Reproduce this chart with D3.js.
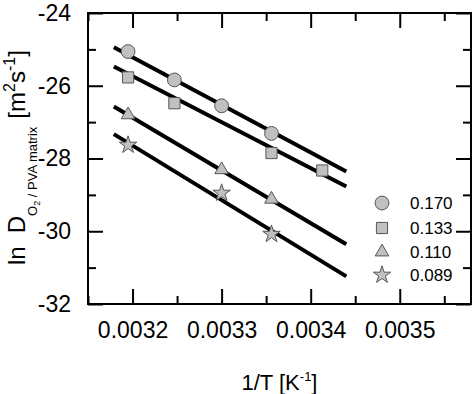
<!DOCTYPE html>
<html>
<head>
<meta charset="utf-8">
<script src="https://cdn.jsdelivr.net/npm/d3@7"></script>
<style>
  body { margin: 0; background: #fff; }
  text { font-family: Arial, "Liberation Sans", sans-serif; fill: #000; }
</style>
</head>
<body>
<div id="chart"></div>
<script>
// data
var seriesNames = ["0.170", "0.133", "0.110", "0.089"];
var x170 = [0.003195, 0.003247, 0.0033, 0.003356];
var y170 = [-25.06, -25.84, -26.55, -27.31];
var x133 = [0.003195, 0.003247, 0.003356, 0.003413];
var y133 = [-25.77, -26.48, -27.85, -28.33];
var x110 = [0.003195, 0.0033, 0.003356];
var y110 = [-26.8, -28.31, -29.12];
var x089 = [0.003195, 0.0033, 0.003356];
var y089 = [-27.63, -28.95, -30.08];
// fitted lines: start / end
var fitX = [0.003179, 0.00344];
var fitY = [[-24.94, -28.36], [-25.47, -28.77], [-26.57, -30.36], [-27.33, -31.24]];
var xTicks = [0.0032, 0.0033, 0.0034, 0.0035];
var xMinor = [0.00315, 0.00325, 0.00335, 0.00345, 0.00355];
var yTicks = [-32, -30, -28, -26, -24];
var yMinor = [-31, -29, -27, -25];

var svgWidth = 474, svgHeight = 394;
var margin = {top: 13, right: 3, bottom: 90, left: 88};
var width = svgWidth - margin.left - margin.right;
var height = svgHeight - margin.top - margin.bottom;

var svg = d3.select("#chart").append("svg")
  .attr("width", svgWidth)
  .attr("height", svgHeight);

var g = svg.append("g")
  .attr("transform", `translate(${margin.left}, ${margin.top})`);

var xScale = d3.scaleLinear().domain([0.00315, 0.00358]).range([0, width]);
var yScale = d3.scaleLinear().domain([-32, -24]).range([height, 0]);

function styleAxis(sel) {
  sel.select(".domain").remove();
  sel.selectAll("line").attr("stroke", "#000").attr("stroke-width", 2);
  sel.selectAll("text").style("font-size", "23px");
}

// bottom
g.append("g").attr("transform", `translate(0, ${height})`)
  .call(d3.axisBottom(xScale).tickValues(xTicks).tickSize(-15).tickPadding(18).tickFormat(d => d.toFixed(4)))
  .call(styleAxis);
g.append("g").attr("transform", `translate(0, ${height})`)
  .call(d3.axisBottom(xScale).tickValues(xMinor).tickSize(-8).tickFormat(""))
  .call(styleAxis);
// top
g.append("g")
  .call(d3.axisTop(xScale).tickValues(xTicks).tickSize(-15).tickFormat(""))
  .call(styleAxis);
g.append("g")
  .call(d3.axisTop(xScale).tickValues(xMinor).tickSize(-8).tickFormat(""))
  .call(styleAxis);
// left
g.append("g")
  .call(d3.axisLeft(yScale).tickValues(yTicks).tickSize(-15).tickPadding(17).tickFormat(d => String(d)))
  .call(styleAxis);
g.append("g")
  .call(d3.axisLeft(yScale).tickValues(yMinor).tickSize(-8).tickFormat(""))
  .call(styleAxis);
// right
g.append("g").attr("transform", `translate(${width}, 0)`)
  .call(d3.axisRight(yScale).tickValues(yTicks).tickSize(-15).tickFormat(""))
  .call(styleAxis);
g.append("g").attr("transform", `translate(${width}, 0)`)
  .call(d3.axisRight(yScale).tickValues(yMinor).tickSize(-8).tickFormat(""))
  .call(styleAxis);

// frame
g.append("rect")
  .attr("width", width).attr("height", height)
  .attr("fill", "none").attr("stroke", "#000").attr("stroke-width", 2);

// fit lines
fitY.forEach(function(f) {
  g.append("line")
    .attr("x1", xScale(fitX[0])).attr("y1", yScale(f[0]))
    .attr("x2", xScale(fitX[1])).attr("y2", yScale(f[1]))
    .attr("stroke", "#000").attr("stroke-width", 4);
});

// markers
var symbols = [
  d3.symbol().type(d3.symbolCircle).size(150),
  d3.symbol().type(d3.symbolSquare).size(125),
  d3.symbol().type(d3.symbolTriangle).size(80),
  d3.symbol().type(d3.symbolStar).size(95)
];
var series = [[x170, y170], [x133, y133], [x110, y110], [x089, y089]];

series.forEach(function(s, i) {
  g.selectAll(".pt" + i)
    .data(s[0].map((xv, j) => ({x: xv, y: s[1][j]})))
    .enter()
    .append("path")
    .attr("class", "pt" + i)
    .attr("d", symbols[i])
    .attr("transform", d => `translate(${xScale(d.x)}, ${yScale(d.y)})`)
    .attr("fill", "#c0c0c0")
    .attr("stroke", "#555")
    .attr("stroke-width", 1);
});

// legend
var legendY = [190, 215, 239, 262];
seriesNames.forEach(function(name, i) {
  g.append("path")
    .attr("d", symbols[i])
    .attr("transform", `translate(294, ${legendY[i]})`)
    .attr("fill", "#c0c0c0")
    .attr("stroke", "#555")
    .attr("stroke-width", 1);
  g.append("text")
    .attr("x", 322)
    .attr("y", legendY[i])
    .attr("dy", "0.35em")
    .style("font-size", "17px")
    .text(name);
});

// axis labels
svg.append("text")
  .attr("x", margin.left + width / 2)
  .attr("y", 390)
  .attr("text-anchor", "middle")
  .style("font-size", "22px")
  .html("1/T [K<tspan dy='-9' font-size='13px'>-1</tspan><tspan dy='9'>]</tspan>");

var yl = svg.append("text")
  .attr("transform", "translate(25, 265) rotate(-90)")
  .style("font-size", "24px");
yl.append("tspan").text("ln");
yl.append("tspan").attr("dx", 13).text("D");
yl.append("tspan").attr("dy", 12).style("font-size", "13px").text("O");
yl.append("tspan").attr("dy", 3).style("font-size", "9px").text("2");
yl.append("tspan").attr("dy", -3).style("font-size", "13px").text(" / PVA matrix");
yl.append("tspan").attr("dy", -12).attr("dx", 8).text("[m");
yl.append("tspan").attr("dy", -10).style("font-size", "16px").text("2");
yl.append("tspan").attr("dy", 10).text("s");
yl.append("tspan").attr("dy", -10).style("font-size", "16px").text("-1");
yl.append("tspan").attr("dy", 10).text("]");
</script>
</body>
</html>
